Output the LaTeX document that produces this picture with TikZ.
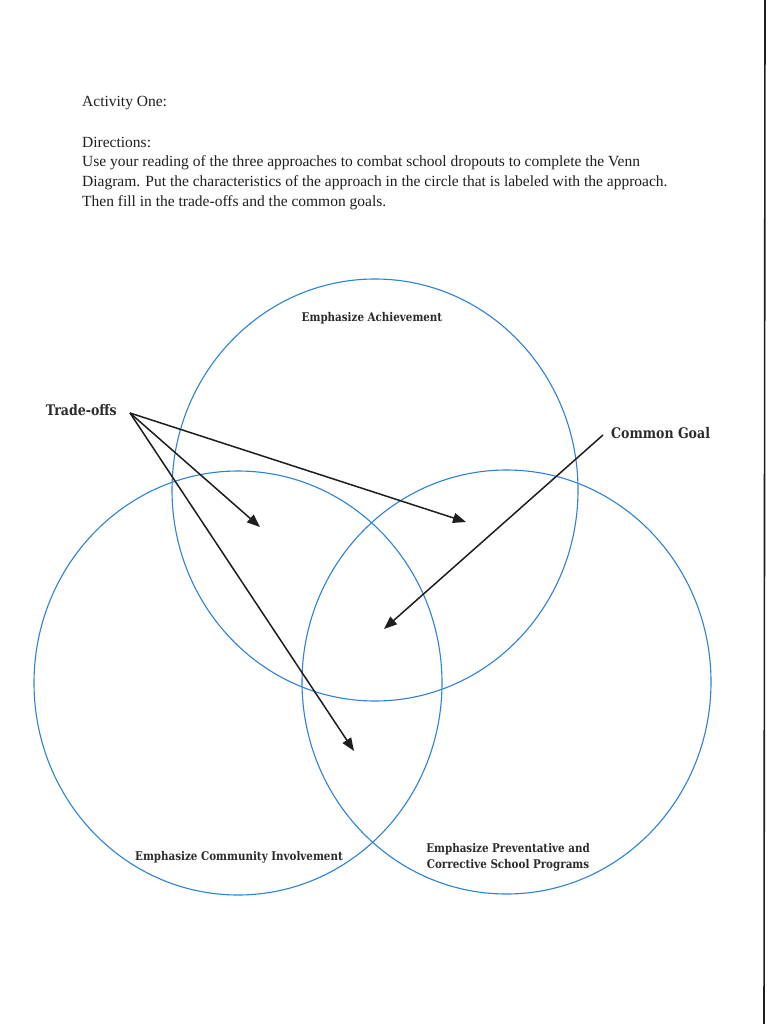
\documentclass[tikz,border=0pt]{standalone}
\usepackage{fontspec}
\setmainfont{Liberation Serif}
\newfontfamily\labfont{DejaVu Serif}[FakeStretch=0.86]
\usetikzlibrary{arrows.meta}
\definecolor{vennblue}{HTML}{2E82D6}
\definecolor{ink}{HTML}{1E1E1E}
\definecolor{labink}{HTML}{2B2B2B}
\tikzset{
  x=1pt, y=-1pt,
  venn/.style={draw=vennblue, line width=1.1pt},
  ptr/.style={draw=ink, line width=1.5pt, -{Triangle[length=13pt,width=10pt]}},
  lab/.style={text=labink, font=\labfont\bfseries\fontsize{12}{16}\selectfont, inner sep=0pt, align=center},
  big/.style={text=labink, font=\labfont\bfseries\fontsize{14.6}{17}\selectfont, inner sep=0pt},
  hdr/.style={text=ink, font=\fontsize{15.5}{20}\selectfont, inner sep=0pt, anchor=base west}
}
\begin{document}
\begin{tikzpicture}
\useasboundingbox[fill=white] (0,0) rectangle (768,1024);
% scan edge
\draw[line width=1.6pt, ink] (765,0) -- (764,1024);
% header
\node[hdr] (h1) at (82,107) {Activity One:};
\node[hdr] (h2) at (82,148) {Directions:};
\node[hdr] (h3) at (82,167) {Use your reading of the three approaches to combat school dropouts to complete the Venn};
\node[hdr] (h4) at (82,187) {Diagram. Put the characteristics of the approach in the circle that is labeled with the approach.};
\node[hdr] (h5) at (82,207) {Then fill in the trade-offs and the common goals.};
% circles
\draw[venn] (375,490) ellipse [x radius=203, y radius=211];
\draw[venn] (238,683) ellipse [x radius=204, y radius=212];
\draw[venn] (506.5,682) ellipse [x radius=204.5, y radius=212];
% labels
\node[lab] (ach) at (372,318) {Emphasize Achievement};
\node[lab] (com) at (239,857) {Emphasize Community Involvement};
\node[lab] (pre) at (508,857) {Emphasize Preventative and\\Corrective School Programs};
\node[big, anchor=east] (tr) at (117,410) {Trade-offs};
\node[big, anchor=west] (cg) at (611,433) {Common Goal};
% connector points
\coordinate (trs) at (130,413);
\coordinate (cgs) at (603,435);
\coordinate (t1) at (260,527);
\coordinate (t2) at (466,522);
\coordinate (t3) at (354,751);
\coordinate (t4) at (384,629);
\draw[ptr] (trs) -- (t1);
\draw[ptr] (trs) -- (t2);
\draw[ptr] (trs) -- (t3);
\draw[ptr] (cgs) -- (t4);
\end{tikzpicture}
\end{document}
